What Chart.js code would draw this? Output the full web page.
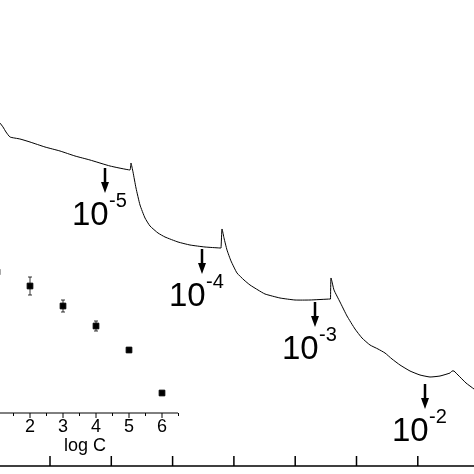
<!DOCTYPE html>
<html>
<head>
<meta charset="UTF-8">
<script src="https://cdn.jsdelivr.net/npm/chart.js"></script>
<style>
  body { margin: 0; background: #fff; }
  #wrap { width: 474px; height: 474px; }
</style>
</head>
<body>
<div id="wrap"><canvas id="c"></canvas></div>
<script>
// main trace (time, signal) in plot units
const traceX = [0, 3, 6, 10, 20, 30, 45, 60, 75, 90, 110, 130, 130.5, 131, 133, 136, 140, 145, 150, 158, 165, 178, 190, 205, 220, 221, 222, 224, 227, 231, 237, 244, 250, 258, 265, 280, 295, 310, 330, 330.5, 331, 334, 340, 347, 355, 362, 370, 378, 385, 392, 400, 410, 420, 430, 440, 450, 452, 454, 456, 460, 466, 474];
const traceY = [123, 127, 132, 137, 139, 142, 147, 151, 156, 160, 166, 170, 168, 163, 172, 188, 205, 218, 226, 233, 237, 242, 245, 247, 248, 248, 229, 238, 250, 261, 273, 280, 285, 290, 294, 298, 300, 300, 299, 299, 278, 290, 302, 316, 329, 338, 345, 349, 353, 359, 365, 371, 375, 377, 376, 373, 371, 371, 373, 377, 383, 389];
const timeTicks = [50, 111.3, 172.6, 233.9, 295.2, 356.5, 417.8];

// added concentration markers
const addLabels = ['-5', '-4', '-3', '-2'];
const addX = [105, 202, 315, 425];
const addY = [168, 249, 302, 384];

// inset: response vs log C
const logC = [1, 2, 3, 4, 5, 6];
const resp = [14.1, 12.7, 10.7, 8.7, 6.3, 2.0];
const respErr = [0.5, 0.9, 0.6, 0.5, 0.2, 0.1];
const insetTicks = [2, 3, 4, 5, 6];

const decor = {
  id: 'decor',
  afterDatasetsDraw(chart) {
    const ctx = chart.ctx;
    const x = chart.scales.x, y = chart.scales.y;
    const x2 = chart.scales.x2, y2 = chart.scales.y2;
    ctx.save();
    ctx.strokeStyle = '#000';
    ctx.fillStyle = '#000';
    // main axis
    ctx.lineWidth = 1.5;
    ctx.beginPath();
    ctx.moveTo(0, y.getPixelForValue(466)); ctx.lineTo(474, y.getPixelForValue(466));
    timeTicks.forEach(t => {
      const px = x.getPixelForValue(t);
      ctx.moveTo(px, y.getPixelForValue(466)); ctx.lineTo(px, y.getPixelForValue(456));
    });
    ctx.stroke();
    // arrows and labels
    addX.forEach((ax, i) => {
      const px = x.getPixelForValue(ax), py = y.getPixelForValue(addY[i]);
      ctx.lineWidth = 2.5;
      ctx.beginPath(); ctx.moveTo(px, py); ctx.lineTo(px, py + 16); ctx.stroke();
      ctx.beginPath(); ctx.moveTo(px - 4, py + 14); ctx.lineTo(px + 4, py + 14); ctx.lineTo(px, py + 25); ctx.closePath(); ctx.fill();
      ctx.font = '33px Arial, "Liberation Sans", sans-serif';
      ctx.textBaseline = 'alphabetic';
      ctx.textAlign = 'left';
      const lx = px - 33, ly = py + 57;
      ctx.fillText('10', lx, ly);
      ctx.font = '20px Arial, "Liberation Sans", sans-serif';
      ctx.fillText(addLabels[i], lx + 37, ly - 18);
    });
    // inset axis
    const iy = y2.getPixelForValue(0);
    ctx.lineWidth = 1;
    ctx.beginPath();
    ctx.moveTo(0, iy); ctx.lineTo(178, iy);
    for (let c = 1; c <= 6.5; c += 0.5) {
      const px = x2.getPixelForValue(c);
      ctx.moveTo(px, iy); ctx.lineTo(px, iy + (Number.isInteger(c) ? 5 : 3));
    }
    ctx.stroke();
    ctx.font = '18px Arial, "Liberation Sans", sans-serif';
    ctx.textAlign = 'center';
    ctx.textBaseline = 'top';
    insetTicks.forEach(c => ctx.fillText(String(c), x2.getPixelForValue(c), iy + 5));
    ctx.fillText('log C', 85, iy + 24);
    // error bars
    ctx.lineWidth = 0.8;
    logC.forEach((c, i) => {
      const px = x2.getPixelForValue(c);
      const a = y2.getPixelForValue(resp[i] + respErr[i]), b = y2.getPixelForValue(resp[i] - respErr[i]);
      ctx.beginPath();
      ctx.moveTo(px, a); ctx.lineTo(px, b);
      ctx.moveTo(px - 2, a); ctx.lineTo(px + 2, a);
      ctx.moveTo(px - 2, b); ctx.lineTo(px + 2, b);
      ctx.stroke();
    });
    ctx.restore();
  }
};

new Chart(document.getElementById('c'), {
  type: 'scatter',
  data: {
    datasets: [{
      data: traceX.map((v, i) => ({ x: v, y: traceY[i] })),
      showLine: true,
      borderColor: '#000',
      borderWidth: 1,
      pointRadius: 0,
      tension: 0.15,
      xAxisID: 'x', yAxisID: 'y'
    }, {
      data: logC.map((v, i) => ({ x: v, y: resp[i] })),
      pointStyle: 'rect',
      pointRadius: 4,
      backgroundColor: '#000',
      borderColor: '#000',
      clip: false,
      xAxisID: 'x2', yAxisID: 'y2'
    }]
  },
  options: {
    responsive: true,
    maintainAspectRatio: false,
    animation: false,
    layout: { padding: 0, autoPadding: false },
    plugins: { legend: { display: false }, tooltip: { enabled: false } },
    scales: {
      x: { type: 'linear', min: 0, max: 474, display: false },
      y: { type: 'linear', min: 0, max: 474, reverse: true, display: false },
      x2: { type: 'linear', min: 2 - 30 / 33, max: 2 + 444 / 33, display: false },
      y2: { type: 'linear', min: -6.1, max: 41.3, display: false }
    }
  },
  plugins: [decor]
});
</script>
</body>
</html>
